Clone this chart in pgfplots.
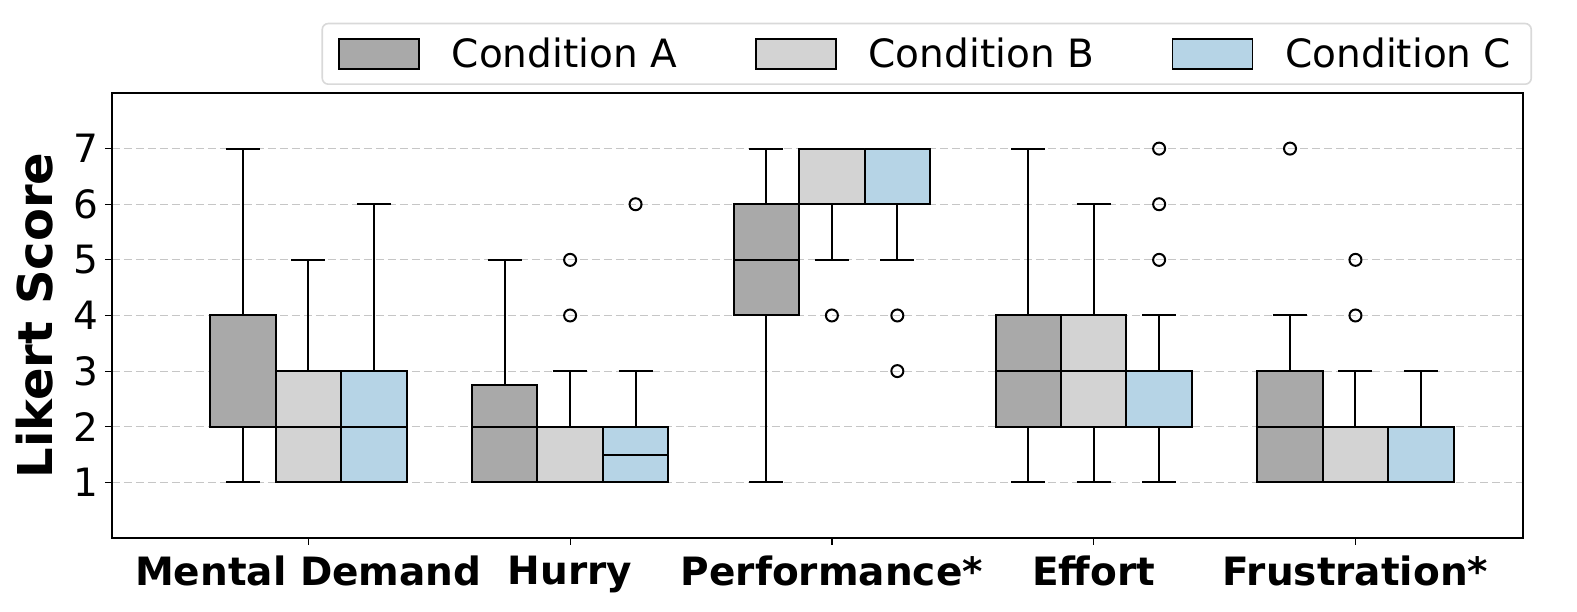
\documentclass[border=0pt]{standalone}
\usepackage{fontspec}
\setmainfont{DejaVu Sans}
\usepackage{pgfplots}
\pgfplotsset{compat=1.18}
\usepgfplotslibrary{statistics}

\definecolor{cA}{HTML}{A9A9A9}
\definecolor{cB}{HTML}{D3D3D3}
\definecolor{cC}{HTML}{B6D4E6}

\pgfplotsset{
  nasa/.style={
    draw=black, line width=1pt, solid, mark=o,
    mark size=3pt, mark options={solid, draw=black, fill=white, line width=1pt},
    boxplot/draw direction=y,
    boxplot/box extend=0.25, boxplot/whisker extend=0.13,
  },
}

\begin{document}
\begin{tikzpicture}
\begin{axis}[
  scale only axis,
  width=705.5pt, height=222.5pt,
  xmin=-0.75, xmax=4.64, ymin=0, ymax=8,
  xtick={0,1,2,3,4},
  xticklabels={Mental Demand, Hurry, Performance*, Effort, Frustration*},
  ytick={1,2,3,4,5,6,7},
  tick align=outside, tick pos=left,
  major tick length=3.5pt,
  tick style={black, line width=0.6pt},
  axis line style={line width=0.8pt},
  ymajorgrids,
  major grid style={gray!45, dash pattern=on 4pt off 2pt, line width=0.6pt},
  /pgf/number format/assume math mode=true,
  tick label style={font=\fontsize{19.5}{23}\selectfont},
  xticklabel style={font=\fontsize{19.5}{23}\selectfont\bfseries, yshift=-2pt},
  ylabel={Likert Score},
  ylabel style={font=\fontsize{24}{28}\selectfont\bfseries, yshift=3pt},
  legend columns=3,
  legend image code/.code={\draw[#1, sharp corners, line width=0.8pt] (0pt,-7.5pt) rectangle (40pt,7.5pt);},
  legend style={
    at={(1.0064,1.018)}, anchor=south east,
    font=\fontsize{19.5}{23}\selectfont,
    draw=gray!30, line width=0.8pt, rounded corners=3pt,
    inner xsep=8pt, inner ysep=5pt,
    /tikz/every even column/.append style={column sep=37pt},
    /tikz/every odd column/.append style={column sep=14pt},
  },
]
% legend entries
\addlegendimage{fill=cA, draw=black}
\addlegendentry{Condition A}
\addlegendimage{fill=cB, draw=black}
\addlegendentry{Condition B}
\addlegendimage{fill=cC, draw=black}
\addlegendentry{Condition C}

% Mental Demand
\addplot[nasa, fill=cA, forget plot, boxplot prepared={draw position=-0.25,
  lower whisker=1, lower quartile=2, median=2, upper quartile=4, upper whisker=7}] coordinates {};
\addplot[nasa, fill=cB, forget plot, boxplot prepared={draw position=0,
  lower whisker=1, lower quartile=1, median=2, upper quartile=3, upper whisker=5}] coordinates {};
\addplot[nasa, fill=cC, forget plot, boxplot prepared={draw position=0.25,
  lower whisker=1, lower quartile=1, median=2, upper quartile=3, upper whisker=6}] coordinates {};

% Hurry
\addplot[nasa, fill=cA, forget plot, boxplot prepared={draw position=0.75,
  lower whisker=1, lower quartile=1, median=2, upper quartile=2.75, upper whisker=5}] coordinates {};
\addplot[nasa, fill=cB, forget plot, boxplot prepared={draw position=1,
  lower whisker=1, lower quartile=1, median=2, upper quartile=2, upper whisker=3}] coordinates {(1,4) (1,5)};
\addplot[nasa, fill=cC, forget plot, boxplot prepared={draw position=1.25,
  lower whisker=1, lower quartile=1, median=1.5, upper quartile=2, upper whisker=3}] coordinates {(1.25,6)};

% Performance
\addplot[nasa, fill=cA, forget plot, boxplot prepared={draw position=1.75,
  lower whisker=1, lower quartile=4, median=5, upper quartile=6, upper whisker=7}] coordinates {};
\addplot[nasa, fill=cB, forget plot, boxplot prepared={draw position=2,
  lower whisker=5, lower quartile=6, median=7, upper quartile=7, upper whisker=7}] coordinates {(2,4)};
\addplot[nasa, fill=cC, forget plot, boxplot prepared={draw position=2.25,
  lower whisker=5, lower quartile=6, median=7, upper quartile=7, upper whisker=7}] coordinates {(2.25,4) (2.25,3)};

% Effort
\addplot[nasa, fill=cA, forget plot, boxplot prepared={draw position=2.75,
  lower whisker=1, lower quartile=2, median=3, upper quartile=4, upper whisker=7}] coordinates {};
\addplot[nasa, fill=cB, forget plot, boxplot prepared={draw position=3,
  lower whisker=1, lower quartile=2, median=3, upper quartile=4, upper whisker=6}] coordinates {};
\addplot[nasa, fill=cC, forget plot, boxplot prepared={draw position=3.25,
  lower whisker=1, lower quartile=2, median=3, upper quartile=3, upper whisker=4}] coordinates {(3.25,5) (3.25,6) (3.25,7)};

% Frustration
\addplot[nasa, fill=cA, forget plot, boxplot prepared={draw position=3.75,
  lower whisker=1, lower quartile=1, median=2, upper quartile=3, upper whisker=4}] coordinates {(3.75,7)};
\addplot[nasa, fill=cB, forget plot, boxplot prepared={draw position=4,
  lower whisker=1, lower quartile=1, median=1, upper quartile=2, upper whisker=3}] coordinates {(4,4) (4,5)};
\addplot[nasa, fill=cC, forget plot, boxplot prepared={draw position=4.25,
  lower whisker=1, lower quartile=1, median=1, upper quartile=2, upper whisker=3}] coordinates {};
\end{axis}
\pgfresetboundingbox
\path ([shift={(-56pt,-37pt)}]current axis.south west) rectangle ([shift={(27pt,46.5pt)}]current axis.north east);
\end{tikzpicture}
\end{document}
